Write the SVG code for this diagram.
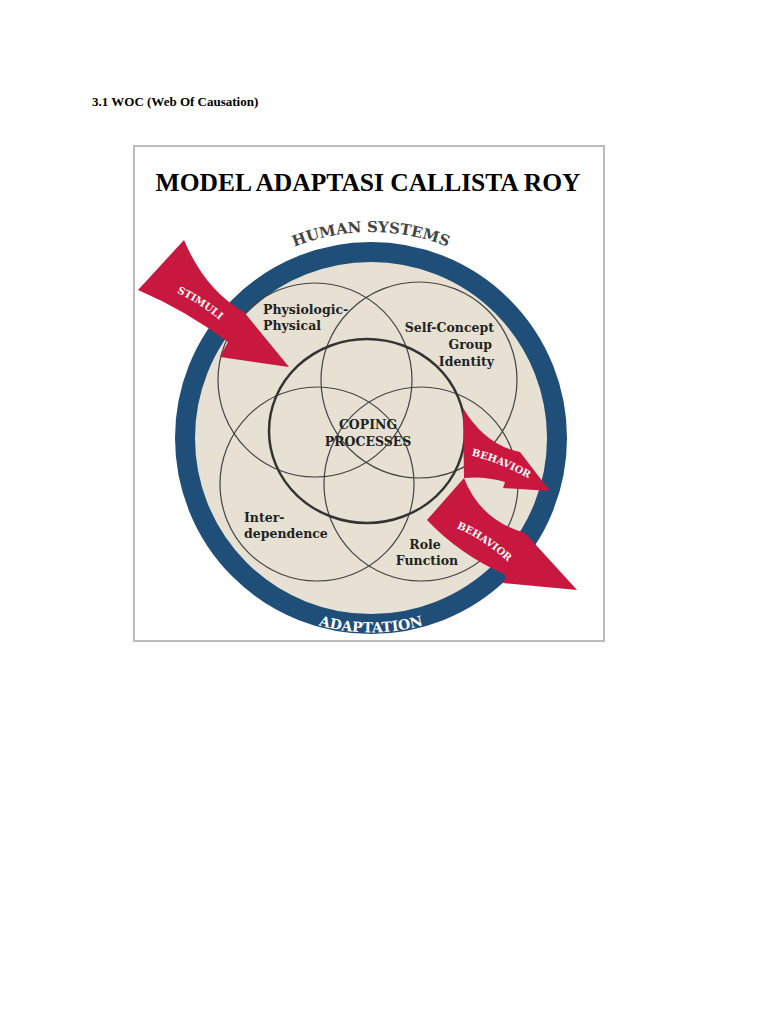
<svg xmlns="http://www.w3.org/2000/svg" width="768" height="1024" viewBox="0 0 768 1024">
<style>
.lbl{font-family:"DejaVu Serif",serif;font-weight:bold;font-size:12.5px;fill:#222}
.arr{fill:#c8183f}
.at{font-family:"DejaVu Serif",serif;font-weight:bold;font-size:10px;fill:#fff}
.ring{fill:none;stroke:#444;stroke-width:1.2}
</style>
<defs>
<path id="topArc" d="M 165 438 A 206 206 0 0 1 577 438"/>
<path id="botArc" d="M 180 460 A 192 192 0 0 0 562 460"/>
<path id="stimP" d="M 150 282 Q 205 300 240 340"/>
<path id="b1P" d="M 468 455 Q 495 460 532 480"/>
<path id="b2P" d="M 448 525 Q 480 535 515 568"/>
</defs>
<rect width="768" height="1024" fill="#fff"/>
<text x="92" y="106" font-family="Liberation Serif,serif" font-weight="bold" font-size="13">3.1 WOC (Web Of Causation)</text>
<rect x="134" y="146" width="470" height="495" fill="#fff" stroke="#bbb" stroke-width="2"/>
<text x="368" y="191" text-anchor="middle" font-family="Liberation Serif,serif" font-weight="bold" font-size="25.5">MODEL ADAPTASI CALLISTA ROY</text>
<g id="circle">
<circle cx="371" cy="438" r="186" fill="#e6e1d3" stroke="#1f4e79" stroke-width="20"/>
</g>
<text font-family="DejaVu Serif,serif" font-weight="bold" font-size="15" fill="#444"><textPath href="#topArc" startOffset="50%" text-anchor="middle">HUMAN SYSTEMS</textPath></text>
<g id="venn">
<circle class="ring" cx="315" cy="380" r="97"/>
<circle class="ring" cx="419" cy="380" r="98"/>
<circle class="ring" cx="317" cy="484" r="97"/>
<circle class="ring" cx="421" cy="484" r="97"/>
<ellipse cx="367" cy="431" rx="98" ry="92" fill="none" stroke="#333" stroke-width="2.5"/>
</g>
<text font-family="DejaVu Serif,serif" font-weight="bold" font-size="14" fill="#fff"><textPath href="#botArc" startOffset="50%" text-anchor="middle">ADAPTATION</textPath></text>
<g id="connectors">
<path class="arr" d="M 184 240 Q 205 290 244 312 L 289 367 L 220 357 L 228 342 Q 185 310 138 290 Z"/>
<path class="arr" d="M 463 408 Q 485 445 520 452 L 550 491 L 503 488 L 505 482 Q 485 476 464 478 Z"/>
<path class="arr" d="M 464 478 Q 480 520 525 533 L 577 590 L 503 583 L 506 575 Q 460 555 427 520 Z"/>
</g>
<text class="at"><textPath href="#stimP" startOffset="50%" text-anchor="middle">STIMULI</textPath></text>
<text class="at" font-size="9"><textPath href="#b1P" startOffset="50%" text-anchor="middle">BEHAVIOR</textPath></text>
<text class="at"><textPath href="#b2P" startOffset="50%" text-anchor="middle">BEHAVIOR</textPath></text>
<g id="labels">
<text class="lbl" x="263" y="314">Physiologic-</text>
<text class="lbl" x="263" y="330">Physical</text>
<text class="lbl" x="494" y="332" text-anchor="end">Self-Concept</text>
<text class="lbl" x="492" y="349" text-anchor="end">Group</text>
<text class="lbl" x="494" y="366" text-anchor="end">Identity</text>
<text class="lbl" x="368" y="429" text-anchor="middle" font-size="12">COPING</text>
<text class="lbl" x="368" y="446" text-anchor="middle" font-size="12">PROCESSES</text>
<text class="lbl" x="244" y="522">Inter-</text>
<text class="lbl" x="244" y="538">dependence</text>
<text class="lbl" x="425" y="549" text-anchor="middle">Role</text>
<text class="lbl" x="427" y="565" text-anchor="middle">Function</text>
</g>
</svg>
